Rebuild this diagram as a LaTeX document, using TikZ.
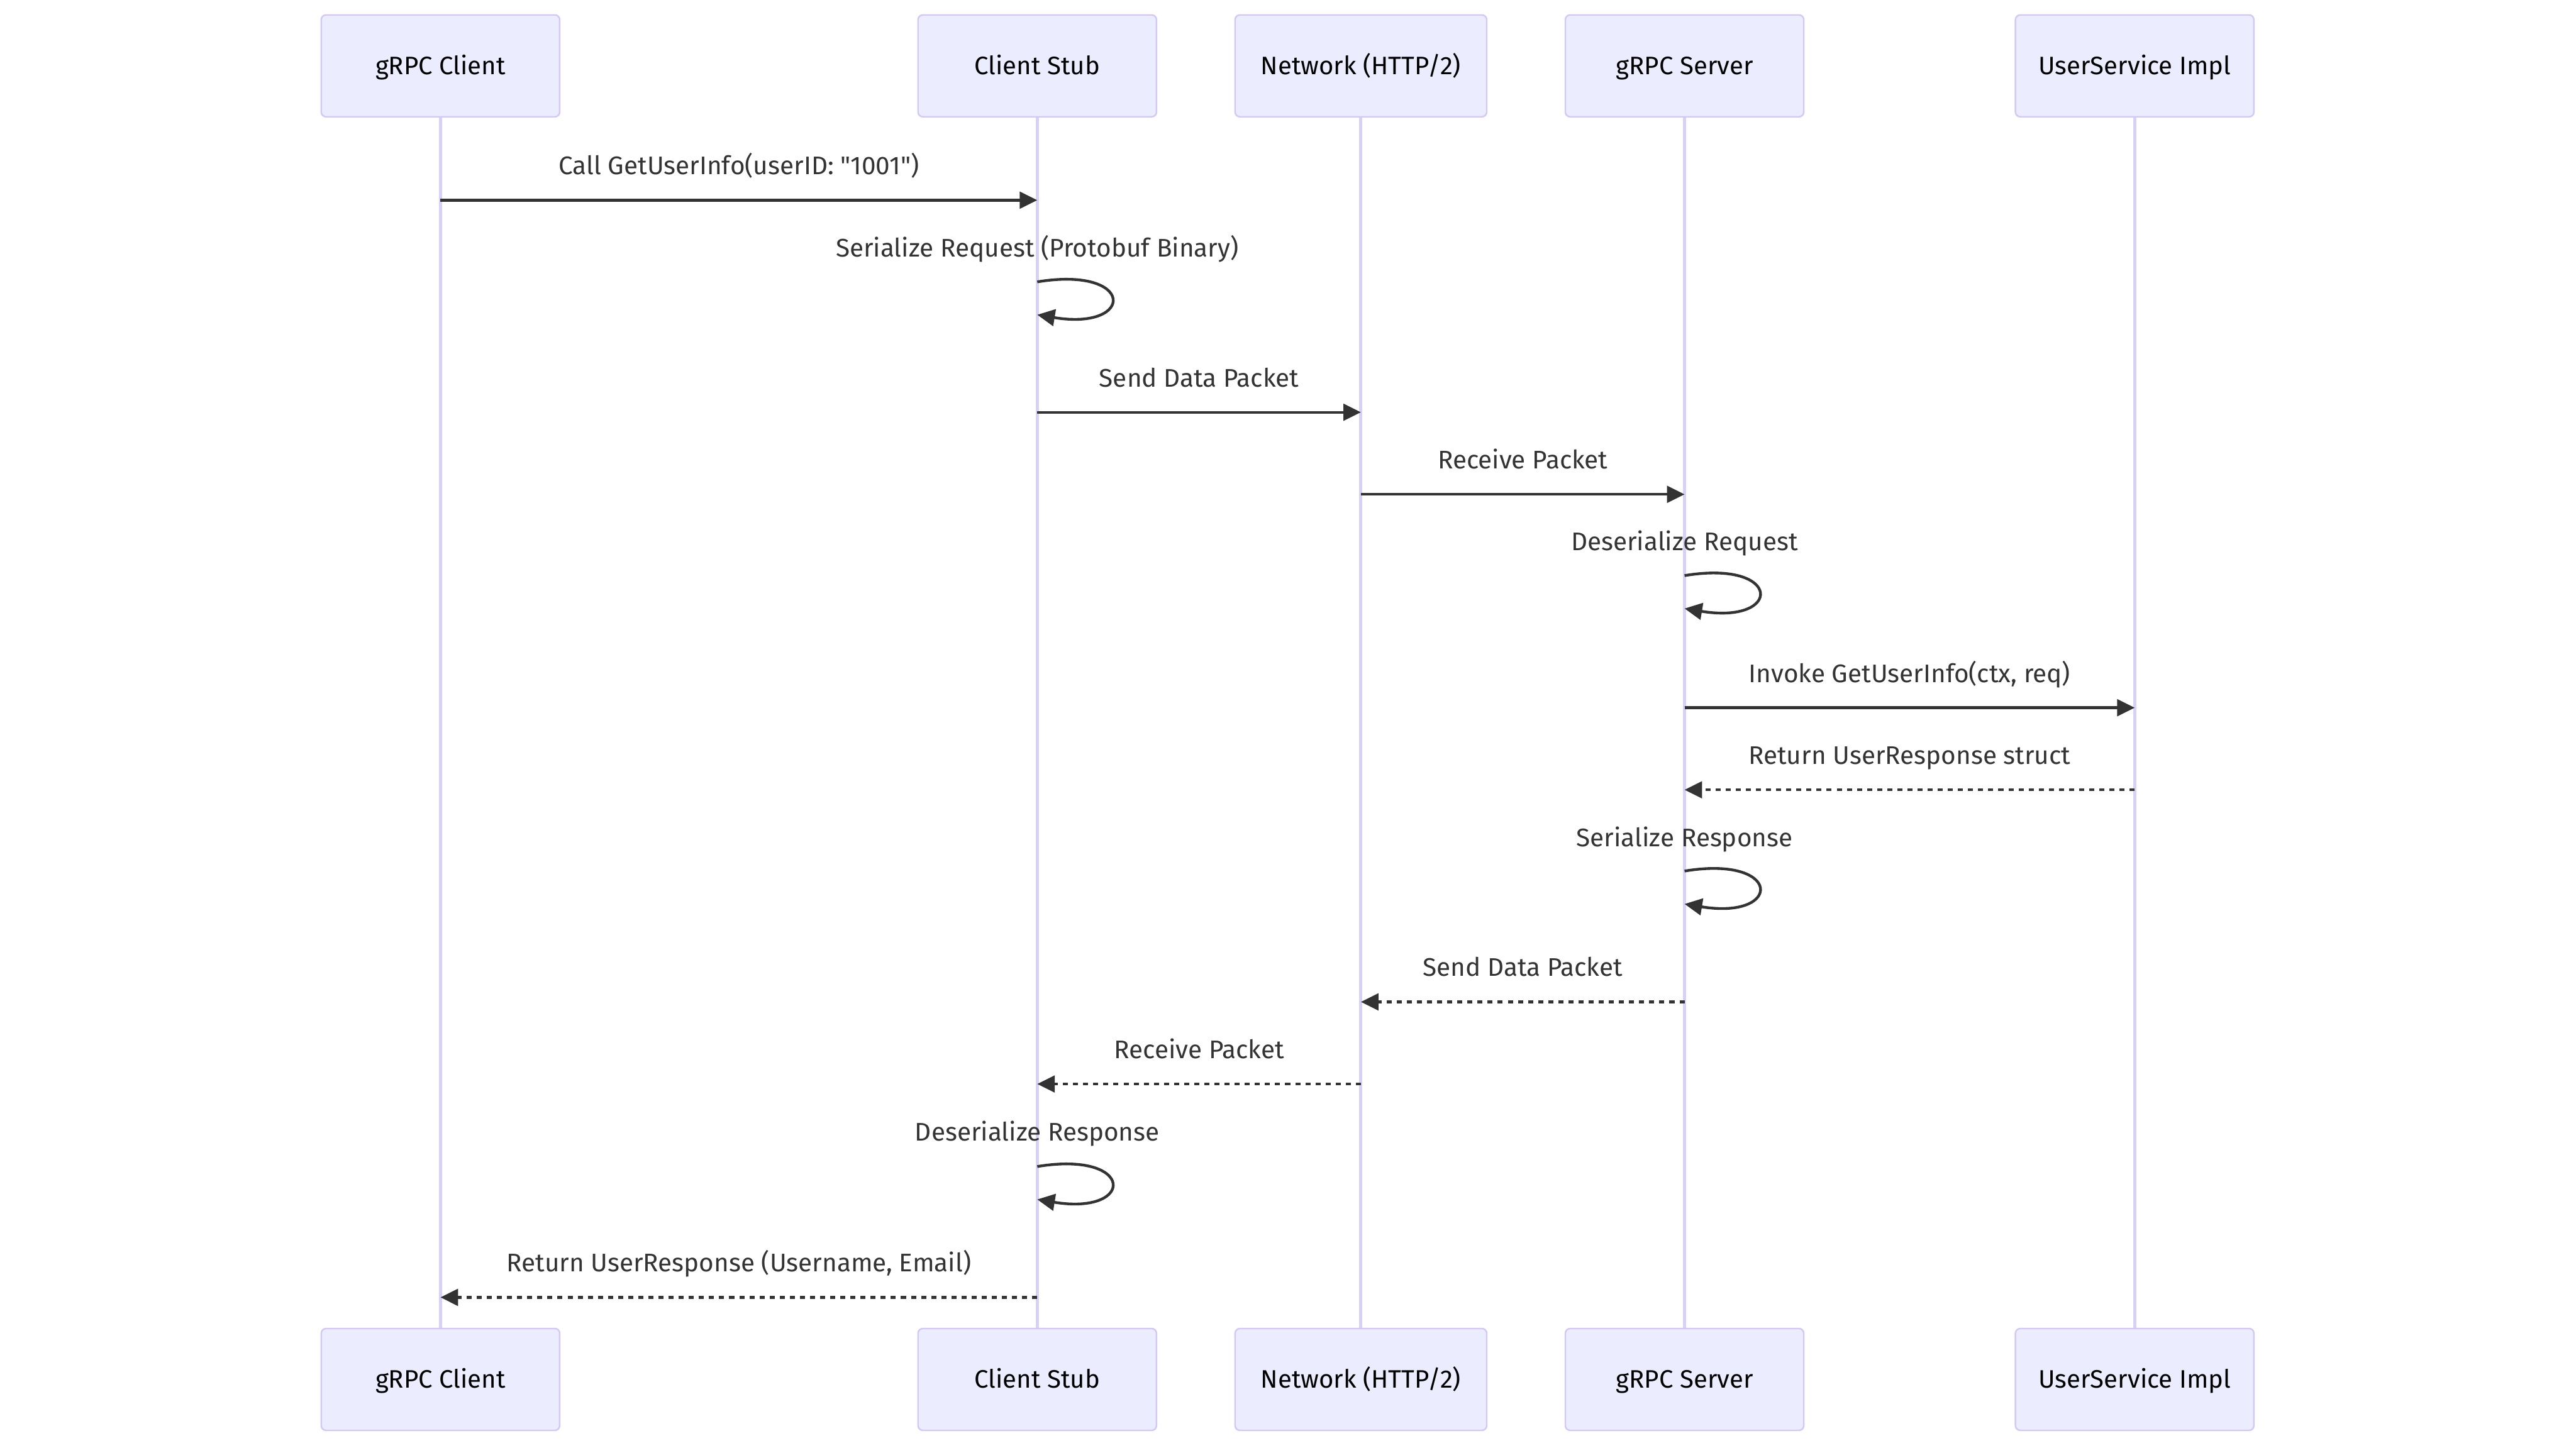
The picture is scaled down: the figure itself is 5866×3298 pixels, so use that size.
\documentclass[tikz,border=0pt]{standalone}
\usepackage{fontspec}
\setmainfont{Fira Sans}[Ligatures=TeXOff]
\usetikzlibrary{arrows.meta}
\definecolor{actfill}{HTML}{ECECFF}
\definecolor{actdraw}{HTML}{D3C9F3}
\definecolor{lifec}{HTML}{D9D0F5}
\definecolor{msgc}{HTML}{333333}
\tikzset{
  actor/.style={draw=actdraw, fill=actfill, line width=0.7pt, rounded corners=2.2pt,
    minimum width=108.6pt, minimum height=46.4pt, inner sep=0pt, text=black,
    text height=7.9pt, text depth=0pt,
    font=\fontsize{11.5}{13}\selectfont},
  life/.style={draw=lifec, line width=1.4pt},
  msg/.style={draw=msgc, line width=1.25pt, -{Triangle[length=8pt,width=7.6pt]}},
  reply/.style={msg, dash pattern=on 2.3pt off 2.3pt},
  lbl/.style={text=msgc, font=\fontsize{11.6}{13}\selectfont, inner sep=0pt,
    text height=8pt, text depth=0pt}
}
\begin{document}
\begin{tikzpicture}[x=0.2pt,y=-0.2pt]
\useasboundingbox (0,0) rectangle (5866,3298);
% actors top
\node[actor] (t1) at (1003,150) {gRPC Client};
\node[actor] (t2) at (2362,150) {Client Stub};
\node[actor, minimum width=114.6pt] (t3) at (3099,150) {Network (HTTP/2)};
\node[actor] (t4) at (3836,150) {gRPC Server};
\node[actor] (t5) at (4861,150) {UserService Impl};
% actors bottom
\node[actor] (b1) at (1003,3142) {gRPC Client};
\node[actor] (b2) at (2362,3142) {Client Stub};
\node[actor, minimum width=114.6pt] (b3) at (3099,3142) {Network (HTTP/2)};
\node[actor] (b4) at (3836,3142) {gRPC Server};
\node[actor] (b5) at (4861,3142) {UserService Impl};
% lifelines
\foreach \i in {1,...,5} { \draw[life] (t\i.south) -- (b\i.north); }
% message rows
\coordinate (y1) at (0,456);
\coordinate (y2) at (0,642);
\coordinate (y2e) at (0,717);
\coordinate (y3) at (0,939);
\coordinate (y4) at (0,1126);
\coordinate (y5) at (0,1311);
\coordinate (y5e) at (0,1386);
\coordinate (y6) at (0,1612);
\coordinate (y7) at (0,1799);
\coordinate (y8) at (0,1984);
\coordinate (y8e) at (0,2059);
\coordinate (y9) at (0,2282);
\coordinate (y10) at (0,2469);
\coordinate (y11) at (0,2657);
\coordinate (y11e) at (0,2732);
\coordinate (y12) at (0,2955);
% 1
\draw[msg] (t1 |- y1) -- (t2 |- y1) node[lbl, midway, yshift=15.6pt] (l1) {Call GetUserInfo(userID: "1001")};
% 2 self
\draw[msg] (t2 |- y2) .. controls +(224,-37) and +(224,37) .. (t2 |- y2e);
\node[lbl] (l2) at (t2 |- 0,565) {Serialize Request (Protobuf Binary)};
% 3
\draw[msg] (t2 |- y3) -- (t3 |- y3) node[lbl, midway, yshift=15.6pt] (l3) {Send Data Packet};
% 4
\draw[msg] (t3 |- y4) -- (t4 |- y4) node[lbl, midway, yshift=15.6pt] (l4) {Receive Packet};
% 5 self
\draw[msg] (t4 |- y5) .. controls +(224,-37) and +(224,37) .. (t4 |- y5e);
\node[lbl] (l5) at (t4 |- 0,1234) {Deserialize Request};
% 6
\draw[msg] (t4 |- y6) -- (t5 |- y6) node[lbl, midway, yshift=15.6pt] (l6) {Invoke GetUserInfo(ctx, req)};
% 7
\draw[reply] (t5 |- y7) -- (t4 |- y7) node[lbl, midway, yshift=15.6pt] (l7) {Return UserResponse struct};
% 8 self
\draw[msg] (t4 |- y8) .. controls +(224,-37) and +(224,37) .. (t4 |- y8e);
\node[lbl] (l8) at (t4 |- 0,1908) {Serialize Response};
% 9
\draw[reply] (t4 |- y9) -- (t3 |- y9) node[lbl, midway, yshift=15.6pt] (l9) {Send Data Packet};
% 10
\draw[reply] (t3 |- y10) -- (t2 |- y10) node[lbl, midway, yshift=15.6pt] (l10) {Receive Packet};
% 11 self
\draw[msg] (t2 |- y11) .. controls +(224,-37) and +(224,37) .. (t2 |- y11e);
\node[lbl] (l11) at (t2 |- 0,2578) {Deserialize Response};
% 12
\draw[reply] (t2 |- y12) -- (t1 |- y12) node[lbl, midway, yshift=15.6pt] (l12) {Return UserResponse (Username, Email)};
\end{tikzpicture}
\end{document}
